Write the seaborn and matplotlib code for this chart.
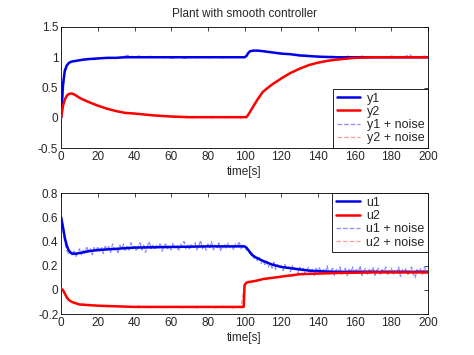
import numpy as np
import matplotlib
matplotlib.use("Agg")
import matplotlib.pyplot as plt
import seaborn as sns

# smooth outputs / inputs
t_s = [0, 1, 2, 3, 4, 5, 6, 8, 10, 12, 15, 20, 25, 30, 35, 40, 50, 60, 70, 80, 90, 100,
       101, 102, 103, 105, 107, 110, 115, 120, 125, 130, 135, 140, 145, 150, 160, 170, 180, 190, 200]
y1 = [0, 0.55, 0.78, 0.86, 0.9, 0.92, 0.93, 0.94, 0.95, 0.96, 0.97, 0.98, 0.99, 0.99, 1.0, 1.0, 1.0, 1.0, 1.0, 1.0, 1.0, 1.0,
      1.02, 1.07, 1.1, 1.11, 1.11, 1.1, 1.08, 1.06, 1.05, 1.03, 1.02, 1.01, 1.005, 1.0, 1.0, 1.0, 1.0, 1.0, 1.0]
y2 = [0, 0.2, 0.3, 0.36, 0.39, 0.4, 0.4, 0.37, 0.33, 0.3, 0.26, 0.2, 0.15, 0.11, 0.08, 0.07, 0.04, 0.02, 0.01, 0.01, 0.01, 0.01,
      0.01, 0.05, 0.1, 0.2, 0.3, 0.43, 0.55, 0.65, 0.74, 0.81, 0.87, 0.91, 0.94, 0.96, 0.99, 1.0, 1.0, 1.0, 1.0]

t_u = [0, 1, 2, 3, 4, 5, 6, 8, 10, 15, 20, 30, 40, 60, 80, 99.5,
       100, 101, 102, 104, 106, 110, 115, 120, 125, 130, 135, 140, 150, 170, 200]
u1 = [0.6, 0.52, 0.43, 0.37, 0.33, 0.31, 0.30, 0.30, 0.305, 0.32, 0.33, 0.34, 0.35, 0.355, 0.36, 0.36,
      0.36, 0.35, 0.33, 0.29, 0.27, 0.24, 0.21, 0.19, 0.18, 0.17, 0.16, 0.155, 0.15, 0.15, 0.15]
u2 = [0.01, 0.0, -0.03, -0.06, -0.08, -0.09, -0.1, -0.11, -0.12, -0.125, -0.13, -0.135, -0.14, -0.14, -0.14, -0.14,
      0.04, 0.06, 0.065, 0.07, 0.075, 0.09, 0.1, 0.11, 0.12, 0.13, 0.133, 0.135, 0.14, 0.145, 0.145]

# noisy measurements
t_n2 = list(range(0, 201, 2))
y1_noise = [0, 0.74, 0.9, 0.93, 0.94, 0.95, 0.96, 0.96, 0.97, 0.96, 0.97, 0.99, 0.98, 0.99, 0.98, 0.99, 1.0,
            1.01, 1.03, 1.02, 1.0, 1.02, 1.01, 1.0, 1.02, 1.01, 0.99, 1.0, 0.99, 1.01, 0.98, 0.99, 1.01, 0.99,
            0.98, 1.0, 1.01, 0.99, 1.0, 1.01, 0.99, 1.0, 1.01, 1.0, 0.99, 1.01, 1.0, 0.99, 1.01, 1.0, 1.0,
            1.07, 1.11, 1.11, 1.1, 1.1, 1.09, 1.08, 1.08, 1.06, 1.07, 1.05, 1.06, 1.04, 1.05, 1.02, 1.03, 1.04,
            1.02, 1.01, 1.02, 1.0, 1.01, 1.0, 1.02, 1.0, 1.01, 0.99, 1.02, 1.0, 1.01, 0.99, 1.02, 1.0, 1.01,
            0.99, 1.02, 1.0, 1.01, 0.99, 1.02, 1.0, 1.01, 0.99, 1.02, 1.04, 1.0, 1.01, 0.99, 1.02, 1.0]
y2_noise = [0, 0.3, 0.39, 0.4, 0.37, 0.33, 0.3, 0.28, 0.25, 0.23, 0.2, 0.18, 0.16, 0.14, 0.12, 0.11, 0.1,
            0.09, 0.08, 0.075, 0.07, 0.06, 0.055, 0.05, 0.045, 0.04, 0.04, 0.035, 0.03, 0.03, 0.02, 0.025, 0.01,
            0.015, -0.005, 0.01, 0.0, 0.01, 0.005, 0.0, 0.01, 0.0, 0.01, 0.005, 0.01, 0.0, 0.01, 0.005, 0.01,
            0.0, 0.01, 0.05, 0.15, 0.25, 0.35, 0.43, 0.48, 0.53, 0.57, 0.61, 0.65, 0.69, 0.72, 0.75, 0.78,
            0.81, 0.83, 0.86, 0.88, 0.9, 0.91, 0.92, 0.94, 0.95, 0.955, 0.96, 0.97, 0.975, 0.98, 0.985, 0.99,
            0.99, 0.995, 1.0, 1.0, 1.0, 1.01, 0.99, 1.0, 1.01, 0.99, 1.0, 1.01, 1.0, 0.99, 1.0, 1.01, 0.99,
            1.0, 1.01, 1.0]
u2_noise = [0.01, -0.03, -0.08, -0.1, -0.11, -0.12, -0.115, -0.125, -0.13, -0.12, -0.13, -0.135, -0.125, -0.14,
            -0.13, -0.135, -0.14, -0.13, -0.145, -0.135, -0.14, -0.13, -0.145, -0.135, -0.15, -0.14, -0.135,
            -0.145, -0.14, -0.15, -0.135, -0.145, -0.14, -0.15, -0.135, -0.145, -0.14, -0.15, -0.135, -0.14,
            -0.145, -0.135, -0.15, -0.14, -0.135, -0.145, -0.14, -0.15, -0.135, -0.145, 0.05,
            0.065, 0.07, 0.075, 0.08, 0.09, 0.085, 0.1, 0.095, 0.105, 0.11, 0.115, 0.12, 0.115, 0.125, 0.13,
            0.125, 0.135, 0.13, 0.14, 0.135, 0.14, 0.145, 0.135, 0.15, 0.14, 0.145, 0.15, 0.14, 0.145, 0.15,
            0.14, 0.15, 0.145, 0.14, 0.15, 0.145, 0.14, 0.15, 0.145, 0.14, 0.15, 0.145, 0.14, 0.15, 0.145,
            0.14, 0.15, 0.145, 0.14, 0.15]

t_n1 = list(range(0, 201))
u1_noise = [0.60, 0.50, 0.40, 0.33, 0.30, 0.32, 0.28, 0.33, 0.27, 0.31, 0.34, 0.29, 0.33, 0.30, 0.36, 0.31, 0.34, 0.29, 0.35, 0.32,
            0.36, 0.31, 0.35, 0.30, 0.37, 0.33, 0.36, 0.31, 0.38, 0.33, 0.35, 0.30, 0.37, 0.34, 0.38, 0.32, 0.36, 0.33, 0.39, 0.34,
            0.37, 0.32, 0.36, 0.39, 0.33, 0.37, 0.31, 0.36, 0.40, 0.34, 0.38, 0.33, 0.37, 0.35, 0.39, 0.32, 0.36, 0.38, 0.34, 0.37,
            0.33, 0.39, 0.35, 0.37, 0.32, 0.38, 0.36, 0.40, 0.34, 0.37, 0.33, 0.38, 0.35, 0.39, 0.33, 0.36, 0.41, 0.34, 0.37, 0.33,
            0.38, 0.35, 0.40, 0.33, 0.37, 0.35, 0.39, 0.32, 0.36, 0.38, 0.34, 0.39, 0.35, 0.37, 0.33, 0.38, 0.36, 0.40, 0.34, 0.37,
            0.36, 0.33, 0.34, 0.29, 0.31, 0.26, 0.28, 0.24, 0.27, 0.22, 0.25, 0.21, 0.24, 0.19, 0.22, 0.18, 0.23, 0.17, 0.21, 0.18,
            0.20, 0.16, 0.21, 0.17, 0.19, 0.15, 0.20, 0.16, 0.18, 0.14, 0.19, 0.15, 0.18, 0.13, 0.17, 0.19, 0.14, 0.17, 0.12, 0.18,
            0.15, 0.19, 0.13, 0.17, 0.15, 0.20, 0.13, 0.16, 0.18, 0.12, 0.17, 0.14, 0.19, 0.13, 0.16, 0.18, 0.12, 0.17, 0.15, 0.19,
            0.13, 0.17, 0.15, 0.20, 0.12, 0.16, 0.18, 0.13, 0.17, 0.14, 0.19, 0.12, 0.16, 0.18, 0.13, 0.17, 0.15, 0.19, 0.12, 0.16,
            0.18, 0.13, 0.16, 0.14, 0.19, 0.11, 0.17, 0.15, 0.18, 0.12, 0.16, 0.19, 0.13, 0.10, 0.17, 0.14, 0.18, 0.12, 0.19, 0.15,
            0.16]

sns.set_style("white")
plt.rcParams['font.family'] = ['Liberation Sans', 'DejaVu Sans']
plt.rcParams['font.size'] = 8.5

blue = '#0000e6'
red = '#ff0000'
lblue = '#8c8cff'
lred = '#ff9a9a'

fig = plt.figure(figsize=(4.74, 3.55), dpi=100)
ax1 = fig.add_axes([0.129, 0.583, 0.774, 0.341])
ax2 = fig.add_axes([0.129, 0.115, 0.774, 0.341])

def draw(ax, a, b, a_n, b_n, ta, tb, tn_a, tn_b, names):
    sns.lineplot(x=ta, y=a, ax=ax, color=blue, linewidth=1.8, label=names[0], sort=False)
    sns.lineplot(x=tb, y=b, ax=ax, color=red, linewidth=1.8, label=names[1], sort=False)
    sns.lineplot(x=tn_a, y=a_n, ax=ax, color=lblue, linewidth=0.9, linestyle='--', label=names[2], sort=False)
    sns.lineplot(x=tn_b, y=b_n, ax=ax, color=lred, linewidth=0.9, linestyle='--', label=names[3], sort=False)
    ax.set_xlim(0, 200)
    ax.set_xticks(range(0, 201, 20))
    ax.set_xlabel("time[s]", labelpad=2)
    ax.set_ylabel("")
    ax.tick_params(direction='in', top=True, right=True, length=3, width=0.6, pad=2, labelsize=8.5)
    for s in ax.spines.values():
        s.set_linewidth(0.6)
        s.set_color('black')
    # smooth lines on top of the noise
    lines = ax.get_lines()
    lines[0].set_zorder(3)
    lines[1].set_zorder(3)

def legend(ax, loc):
    leg = ax.legend(loc=loc, borderaxespad=0, fancybox=False, edgecolor='black',
                    framealpha=1, handlelength=1.9, handletextpad=0.5, borderpad=0.3,
                    fontsize=9, labelspacing=0.1)
    leg.get_frame().set_linewidth(0.6)

draw(ax1, y1, y2, y1_noise, y2_noise, t_s, t_s, t_n2, t_n2, ["y1", "y2", "y1 + noise", "y2 + noise"])
ax1.set_ylim(-0.5, 1.5)
ax1.set_yticks([-0.5, 0, 0.5, 1, 1.5])
ax1.set_yticklabels(["-0.5", "0", "0.5", "1", "1.5"])
ax1.set_title("Plant with smooth controller", fontsize=8.5, pad=7)
legend(ax1, 'lower right')

draw(ax2, u1, u2, u1_noise, u2_noise, t_u, t_u, t_n1, t_n2, ["u1", "u2", "u1 + noise", "u2 + noise"])
ax2.set_ylim(-0.2, 0.8)
ax2.set_yticks([-0.2, 0, 0.2, 0.4, 0.6, 0.8])
ax2.set_yticklabels(["-0.2", "0", "0.2", "0.4", "0.6", "0.8"])
legend(ax2, 'upper right')

plt.savefig("out.png", dpi=100)
